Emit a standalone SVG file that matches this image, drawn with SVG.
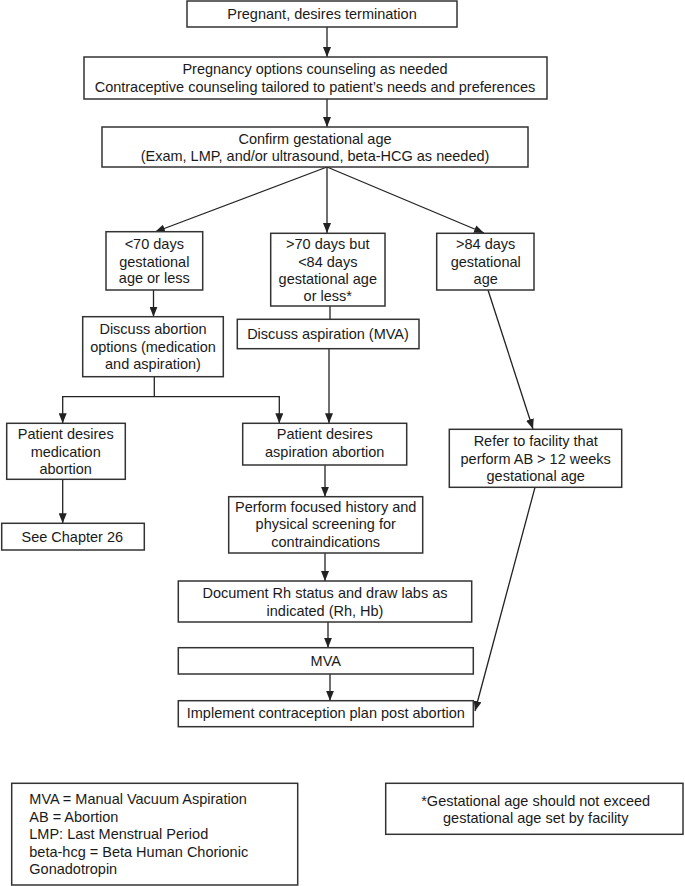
<svg xmlns="http://www.w3.org/2000/svg" width="685" height="886" viewBox="0 0 685 886">
<style>
  .box { fill: #ffffff; stroke: #333333; stroke-width: 1.5; }
  .t { font-family: "Liberation Sans", Arial, sans-serif; font-size: 14.5px; fill: #1a1a1a; text-anchor: middle; }
  .tl { font-family: "Liberation Sans", Arial, sans-serif; font-size: 14.5px; fill: #1a1a1a; text-anchor: start; }
  .c { fill: none; stroke: #222222; stroke-width: 1.3; }
</style>
<defs>
  <marker id="ah" viewBox="0 0 10 8" refX="10" refY="4" markerWidth="10" markerHeight="8" markerUnits="userSpaceOnUse" orient="auto">
    <path d="M0,0 L10,4 L0,8 z" fill="#222222"/>
  </marker>
</defs>
<rect width="685" height="886" fill="#ffffff"/>

<g id="connectors">
  <line class="c" x1="327" y1="27" x2="327" y2="57" marker-end="url(#ah)"/>
  <line class="c" x1="327" y1="99" x2="327" y2="127" marker-end="url(#ah)"/>
  <line class="c" x1="327" y1="167" x2="155" y2="232" marker-end="url(#ah)"/>
  <line class="c" x1="327" y1="167" x2="327" y2="233" marker-end="url(#ah)"/>
  <line class="c" x1="327" y1="167" x2="484" y2="233" marker-end="url(#ah)"/>
  <line class="c" x1="153.5" y1="290" x2="153.5" y2="316.7" marker-end="url(#ah)"/>
  <line class="c" x1="154.3" y1="376.7" x2="154.3" y2="396.7"/>
  <line class="c" x1="62" y1="396.7" x2="280" y2="396.7"/>
  <line class="c" x1="62.7" y1="396.7" x2="62.7" y2="423.3" marker-end="url(#ah)"/>
  <line class="c" x1="279.3" y1="396.7" x2="279.3" y2="423.3" marker-end="url(#ah)"/>
  <line class="c" x1="330" y1="306" x2="330" y2="319.3"/>
  <line class="c" x1="329" y1="348.7" x2="329" y2="423.3" marker-end="url(#ah)"/>
  <line class="c" x1="62.7" y1="479.3" x2="62.7" y2="523.3" marker-end="url(#ah)"/>
  <line class="c" x1="325" y1="465" x2="325" y2="496.7" marker-end="url(#ah)"/>
  <line class="c" x1="325" y1="553" x2="325" y2="581" marker-end="url(#ah)"/>
  <line class="c" x1="328" y1="622" x2="328" y2="647.7" marker-end="url(#ah)"/>
  <line class="c" x1="330" y1="674" x2="330" y2="700.7" marker-end="url(#ah)"/>
  <line class="c" x1="488" y1="290" x2="533" y2="429" marker-end="url(#ah)"/>
  <line class="c" x1="535" y1="487.3" x2="475" y2="711" marker-end="url(#ah)"/>
</g>

<g id="n1">
  <rect class="box" x="187" y="1" width="270" height="26"/>
  <text class="t" x="322" y="19">Pregnant, desires termination</text>
</g>
<g id="n2">
  <rect class="box" x="84" y="57" width="463" height="42"/>
  <text class="t" x="315" y="74">Pregnancy options counseling as needed</text>
  <text class="t" x="315" y="92">Contraceptive counseling tailored to patient’s needs and preferences</text>
</g>
<g id="n3">
  <rect class="box" x="102" y="127" width="426" height="40"/>
  <text class="t" x="315" y="143.5">Confirm gestational age</text>
  <text class="t" x="315" y="161">(Exam, LMP, and/or ultrasound, beta-HCG as needed)</text>
</g>
<g id="n4">
  <rect class="box" x="106" y="231.7" width="96.7" height="58.3"/>
  <text class="t" x="154.3" y="249">&lt;70 days</text>
  <text class="t" x="154.3" y="266.7">gestational</text>
  <text class="t" x="154.3" y="283.3">age or less</text>
</g>
<g id="n5">
  <rect class="box" x="270.7" y="233.3" width="114.3" height="72.7"/>
  <text class="t" x="327.8" y="249">&gt;70 days but</text>
  <text class="t" x="327.8" y="266.7">&lt;84 days</text>
  <text class="t" x="327.8" y="284">gestational age</text>
  <text class="t" x="327.8" y="301">or less*</text>
</g>
<g id="n6">
  <rect class="box" x="436.7" y="233.3" width="97.3" height="56.7"/>
  <text class="t" x="485.7" y="249">&gt;84 days</text>
  <text class="t" x="485.7" y="266.7">gestational</text>
  <text class="t" x="485.7" y="284">age</text>
</g>
<g id="n7">
  <rect class="box" x="82.7" y="316.7" width="140.6" height="60"/>
  <text class="t" x="153" y="334.3">Discuss abortion</text>
  <text class="t" x="153" y="351.7">options (medication</text>
  <text class="t" x="153" y="369">and aspiration)</text>
</g>
<g id="n8">
  <rect class="box" x="237.3" y="319.3" width="181.7" height="29.4"/>
  <text class="t" x="328" y="339.3">Discuss aspiration (MVA)</text>
</g>
<g id="n9">
  <rect class="box" x="6.7" y="423.3" width="118.6" height="56"/>
  <text class="t" x="65.7" y="439.3">Patient desires</text>
  <text class="t" x="65.7" y="456.7">medication</text>
  <text class="t" x="65.7" y="474">abortion</text>
</g>
<g id="n10">
  <rect class="box" x="242.7" y="423.3" width="164" height="41.7"/>
  <text class="t" x="324.7" y="439.3">Patient desires</text>
  <text class="t" x="324.7" y="456.7">aspiration abortion</text>
</g>
<g id="n11">
  <rect class="box" x="449.3" y="429.3" width="172.4" height="58"/>
  <text class="t" x="535.7" y="446">Refer to facility that</text>
  <text class="t" x="535.7" y="464">perform AB &gt; 12 weeks</text>
  <text class="t" x="535.7" y="481">gestational age</text>
</g>
<g id="n12">
  <rect class="box" x="1.7" y="523.3" width="142.6" height="26.7"/>
  <text class="t" x="72.3" y="541.7">See Chapter 26</text>
</g>
<g id="n13">
  <rect class="box" x="228.7" y="496.7" width="194" height="56.3"/>
  <text class="t" x="325.7" y="512.3">Perform focused history and</text>
  <text class="t" x="325.7" y="529.3">physical screening for</text>
  <text class="t" x="325.7" y="546.7">contraindications</text>
</g>
<g id="n14">
  <rect class="box" x="178.3" y="581" width="293.4" height="41"/>
  <text class="t" x="325" y="598.3">Document Rh status and draw labs as</text>
  <text class="t" x="325" y="615.7">indicated (Rh, Hb)</text>
</g>
<g id="n15">
  <rect class="box" x="178.3" y="647.7" width="295" height="26.3"/>
  <text class="t" x="325.8" y="665.7">MVA</text>
</g>
<g id="n16">
  <rect class="box" x="178.3" y="700.7" width="295" height="26"/>
  <text class="t" x="325.8" y="718.3">Implement contraception plan post abortion</text>
</g>
<g id="legend">
  <rect class="box" x="11.7" y="783.3" width="286" height="101.7"/>
  <text class="tl" x="29.3" y="804.3">MVA = Manual Vacuum Aspiration</text>
  <text class="tl" x="29.3" y="821.7">AB = Abortion</text>
  <text class="tl" x="29.3" y="839.3">LMP: Last Menstrual Period</text>
  <text class="tl" x="29.3" y="856.7">beta-hcg = Beta Human Chorionic</text>
  <text class="tl" x="29.3" y="874">Gonadotropin</text>
</g>
<g id="note">
  <rect class="box" x="385.7" y="783.3" width="297.3" height="51"/>
  <text class="t" x="535.7" y="806">*Gestational age should not exceed</text>
  <text class="t" x="535.7" y="823.3">gestational age set by facility</text>
</g>
</svg>
